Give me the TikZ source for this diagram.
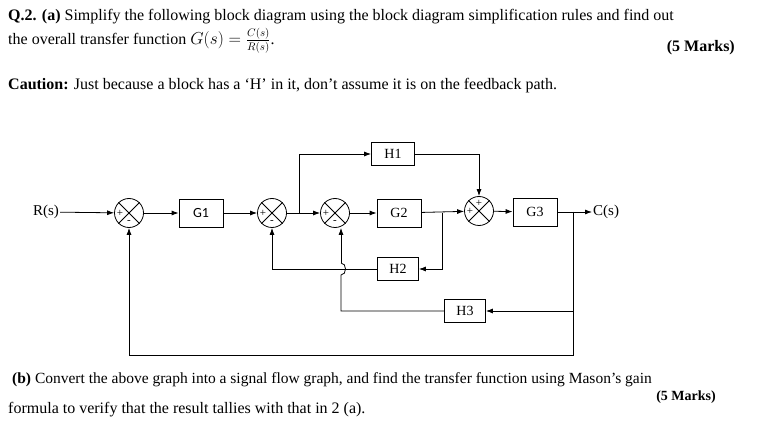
\documentclass[tikz,border=0pt]{standalone}
\usepackage{fontspec}
\setmainfont{Liberation Serif}
\newfontfamily\blkfont{Carlito}
\usetikzlibrary{arrows.meta}
\begin{document}
\begin{tikzpicture}[x=1pt,y=-1pt,
  blk/.style={draw,thick,minimum width=44pt,minimum height=28pt,inner sep=0pt,font=\fontsize{14}{16}\selectfont},
  sj/.style={draw,thick,circle,minimum size=29pt,inner sep=0pt},
  sg/.style={font=\fontsize{11}{11}\selectfont,inner sep=0pt},
  ar/.style={thick,-{Latex[length=7pt,width=5pt]}},
  ln/.style={thick},
  tx/.style={anchor=west,inner sep=0pt,font=\fontsize{16}{18}\selectfont}]
\useasboundingbox[fill=white] (0,0) rectangle (757,446);
\node[tx] (t1) at (8,17) {\textbf{Q.2. (a)} Simplify the following block diagram using the block diagram simplification rules and find out};
\node[tx] (t2) at (8,41) {the overall transfer function $G(s)=\frac{C(s)}{R(s)}$.};
\node[tx,anchor=east] (m1) at (735,48) {\textbf{(5 Marks)}};
\node[tx] (t3) at (8,86) {\textbf{Caution:} Just because a block has a `H' in it, don't assume it is on the feedback path.};
\node[tx,font=\fontsize{15.5}{18}\selectfont] (t4) at (12,380) {\textbf{(b)} Convert the above graph into a signal flow graph, and find the transfer function using Mason's gain};
\node[tx] (t5) at (8,410) {formula to verify that the result tallies with that in 2 (a).};
\node[tx,anchor=east,font=\fontsize{14}{16}\selectfont\bfseries] (m2) at (716,397) {(5 Marks)};

\node[inner sep=1pt,font=\fontsize{15}{18}\selectfont] (R) at (46,212) {R(s)};
\node[sj] (s1) at (129,213) {};
\node[blk,font=\blkfont\fontsize{14}{16}\selectfont] (G1) at (201,213) {G1};
\node[sj] (s2) at (272,213) {};
\node[sj] (s3) at (335,213) {};
\node[blk] (G2) at (399,213) {G2};
\node[sj] (s4) at (479,211) {};
\node[blk] (G3) at (535,212) {G3};
\node[inner sep=1pt,anchor=west,font=\fontsize{15}{18}\selectfont] (C) at (592,212) {C(s)};
\node[blk,minimum width=43pt,minimum height=23pt] (H1) at (393,154) {H1};
\node[blk,minimum width=41pt,minimum height=23pt] (H2) at (398,269) {H2};
\node[blk,minimum width=41pt,minimum height=23pt] (H3) at (465,311) {H3};
\foreach \s in {s1,s2,s3,s4}{
  \draw[thick] (\s.north west) -- (\s.south east) (\s.north east) -- (\s.south west);
  \node[sg] at ([xshift=-9pt]\s.center) {+};}
\foreach \s in {s1,s2,s3}{
  \node[sg] at ([yshift=-9pt]\s.center) {-};}
\node[sg] at ([yshift=8pt]s4.center) {+};

\coordinate (b1) at (299,213);
\coordinate (b2) at (442,213);
\coordinate (b3) at (573,212);
\draw[ar] (R) -- (s1);
\draw[ar] (s1) -- (G1);
\draw[ar] (G1) -- (s2);
\draw[ar] (s2) -- (s3);
\draw[ar] (s3) -- (G2);
\draw[ar] (G2) -- (s4);
\draw[ar] (s4) -- (G3);
\draw[ar] (G3) -- (C);
\draw[ar] (b1) |- (H1);
\draw[ar] (H1) -| (s4);
\draw[ar] (b2) |- (H2);
\draw[ar] (H2) -| (s2);
\draw[ar] (b3) |- (H3);
\coordinate (j) at (341,263);
\draw[ln] (H3.west) -- (341,311) -- (341,275) .. controls (347,275) and (347,263) .. (j);
\draw[ar] (j) -- (s3.south -| j);
\draw[ar] (b3) |- (129,355) -- (s1);
\end{tikzpicture}
\end{document}
